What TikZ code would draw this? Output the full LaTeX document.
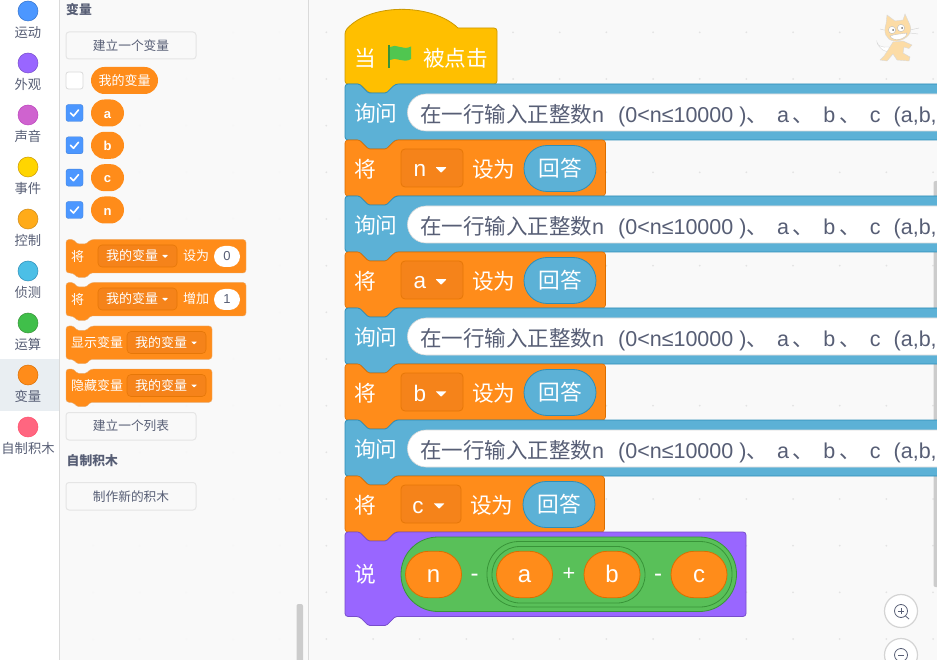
\documentclass[tikz,border=0pt]{standalone}
\usepackage{fontspec}
\setmainfont{Liberation Sans}
\newfontfamily\cjk{Noto Sans CJK SC}
\usetikzlibrary{positioning, shapes.misc}

\definecolor{inkgrey}{HTML}{575E75}
\definecolor{panelbg}{HTML}{F9F9F9}
\definecolor{linegrey}{HTML}{DADADA}
\definecolor{askfill}{HTML}{5CB1D6}
\definecolor{askline}{HTML}{2E8EB8}
\definecolor{varfill}{HTML}{FF8C1A}
\definecolor{varline}{HTML}{DB6E00}
\definecolor{menufill}{HTML}{F5831A}
\definecolor{hatfill}{HTML}{FFBF00}
\definecolor{hatline}{HTML}{CC9900}
\definecolor{sayfill}{HTML}{9966FF}
\definecolor{sayline}{HTML}{774DCB}
\definecolor{opfill}{HTML}{59C059}
\definecolor{opline}{HTML}{389438}
\definecolor{catfill}{HTML}{FCDCA6}
\definecolor{tickblue}{HTML}{4C97FF}
\definecolor{selectbg}{HTML}{E9EEF2}

\newcommand{\zh}[1]{{\cjk #1}}
% stack block: style, left, top, right, bottom, notch unit
\newcommand{\stackblock}[6]{
	\draw [#1, rounded corners=3pt] (#2,#3) -- (#2,#5)
		-- (#2+1.6*#6,#5) [rounded corners=1.5pt] -- (#2+2.6*#6,#5+#6) -- (#2+4.6*#6,#5+#6) -- (#2+5.6*#6,#5) [rounded corners=3pt]
		-- (#4,#5) -- (#4,#3)
		-- (#2+5.6*#6,#3) [rounded corners=1.5pt] -- (#2+4.6*#6,#3+#6) -- (#2+2.6*#6,#3+#6) -- (#2+1.6*#6,#3) [rounded corners=3pt]
		-- cycle;
}
\newcommand{\dropmark}[3]{
	\fill [white, rounded corners=0.6pt] (#1-#3,#2-0.5*#3) -- (#1+#3,#2-0.5*#3) -- (#1,#2+0.5*#3) -- cycle;
}

\begin{document}
\begin{tikzpicture}[x=1pt, y=-1pt,
	bigtext/.style={inner sep=0pt, text=white, font=\fontsize{21.7}{24}\selectfont},
	smalltext/.style={inner sep=0pt, text=white, font=\fontsize{13}{15}\selectfont},
	greytext/.style={inner sep=0pt, text=inkgrey, font=\fontsize{13.3}{15}\selectfont},
	buttontext/.style={inner sep=0pt, text=inkgrey, font=\fontsize{12.7}{15}\selectfont},
	headtext/.style={greytext, font=\fontsize{12.8}{15}\selectfont\bfseries},
	askblock/.style={fill=askfill, draw=askline, line width=0.8pt},
	varblock/.style={fill=varfill, draw=varline, line width=0.6pt},
	flyblock/.style={fill=varfill, draw=varfill!85!black!60!white, line width=0.4pt},
	sayblock/.style={fill=sayfill, draw=sayline, line width=0.8pt},
	hatblock/.style={fill=hatfill, draw=hatline, line width=0.8pt},
	category/.style={circle, minimum size=20pt, inner sep=0pt, line width=0.5pt},
	flybutton/.style={rounded corners=3pt, draw=black!10, fill=panelbg, line width=1pt},
	menubox/.style={rounded corners=4pt, draw=varline!70!varfill, fill=menufill, line width=0.8pt},
	varpill/.style={rounded rectangle, fill=varfill, inner sep=0pt, text=white, font=\fontsize{13}{15}\selectfont},
	letterpill/.style={varpill, minimum width=33pt, minimum height=27pt, text height=10.6pt, text depth=0pt,
		font=\fontsize{13}{15}\selectfont\bfseries},
	bigpill/.style={rounded rectangle, fill=varfill, draw=varline, line width=0.8pt, inner sep=0pt,
		minimum width=56pt, minimum height=46.5pt, text height=16pt, text depth=0pt, text=white,
		font=\fontsize{24}{26}\selectfont},
	answer/.style={rounded rectangle, fill=askfill, draw=askline, line width=0.8pt, inner sep=0pt,
		minimum width=72pt, minimum height=46pt, text=white, font=\fontsize{21.7}{24}\selectfont},
	ring/.style={draw=opline, line width=0.8pt},
	tickbox/.style={rounded corners=2.5pt, fill=tickblue, draw=tickblue!85!black, line width=0.4pt},
]
	\useasboundingbox (0,0) rectangle (937,660);
	\clip (0,0) rectangle (937,660);

	% panels
	\fill [panelbg] (0,0) rectangle (937,660);
	\fill [white] (0,0) rectangle (58.5,660);
	\fill [selectbg] (0,359) rectangle (58.5,411);
	\draw [linegrey] (58.8,0) -- (58.8,660);
	\draw [linegrey, line width=1pt] (308.8,0) -- (308.8,660);
	\foreach \i in {0,...,18} {
		\foreach \j in {0,...,13} {
			\pgfmathsetmacro{\dotx}{93+46.67*\i}
			\pgfmathsetmacro{\doty}{32.3+46.67*\j}
			\ifdim \dotx pt<305pt
				\fill [black!3] (\dotx,\doty) circle (1pt);
			\else
				\fill [black!11] (\dotx,\doty) circle (1pt);
			\fi
		}
	}

	% category column
	\foreach \n/\name/\cfill/\cedge in {0/运动/4C97FF/3373CC, 1/外观/9966FF/774DCB, 2/声音/CF63CF/BD42BD,
		3/事件/FFD500/CC9900, 4/控制/FFAB19/CF8B17, 5/侦测/4CBFE6/2E8EB8, 6/运算/40BF4A/389438,
		7/变量/FF8C1A/DB6E00, 8/自制积木/FF6680/FF4D6A} {
		\definecolor{cfillc}{HTML}{\cfill}
		\definecolor{cedgec}{HTML}{\cedge}
		\node (cat\n) [category, fill=cfillc, draw=cedgec] at (28,11+52*\n) {};
		\node (catname\n) [greytext, below=5pt of cat\n] {\zh{\name}};
	}

	% flyout
	\node (varhead) [headtext, anchor=west] at (66,10) {\zh{变量}};
	\draw [flybutton] (66,32) rectangle (196,59);
	\node (newvar) [buttontext] at (131,45.5) {\zh{建立一个变量}};
	\draw [rounded corners=2.5pt, fill=white, draw=linegrey, line width=0.8pt] (66,72) rectangle (83,89);
	\node (myvar) [varpill, minimum width=67pt, minimum height=27pt] at (124.5,80.5) {\zh{我的变量}};
	\foreach \y/\v in {113/a, 145.3/b, 177.7/c, 210/n} {
		\draw [tickbox] (66,\y-8.5) rectangle (83,\y+8.5);
		\draw [white, line width=1.6pt, line cap=round, line join=round] (70.5,\y) -- (73.5,\y+3) -- (78.5,\y-3);
		\node (pill\v) [letterpill] at (107.5,\y) {\v};
	}
	\foreach \tp/\word/\num in {239.5/设为/0, 282.5/增加/1} {
		\stackblock{flyblock}{66}{\tp}{246}{\tp+33.5}{4.4}
		\node (fly\num) [smalltext, anchor=west] at (71,\tp+17) {\zh{将}};
		\draw [menubox, line width=0.6pt] (98,\tp+5.5) rectangle (177,\tp+27.5);
		\node (menu\num) [smalltext, anchor=west] at (106,\tp+16.5) {\zh{我的变量}};
		\dropmark{165}{\tp+17}{3}
		\node (word\num) [smalltext, anchor=west] at (183,\tp+16.5) {\zh{\word}};
		\node (val\num) [rounded rectangle, fill=white, inner sep=0pt, minimum width=26pt, minimum height=21pt,
			text=inkgrey, font=\fontsize{13}{15}\selectfont] at (227,\tp+17) {\num};
	}
	\foreach \tp/\word in {326/显示变量, 369/隐藏变量} {
		\stackblock{flyblock}{66}{\tp}{212}{\tp+33.3}{4.4}
		\node (show\tp) [smalltext, anchor=west] at (71,\tp+16.5) {\zh{\word}};
		\draw [menubox, line width=0.6pt] (127,\tp+5.5) rectangle (206,\tp+27.5);
		\node (showmenu\tp) [smalltext, anchor=west] at (135,\tp+16.5) {\zh{我的变量}};
		\dropmark{194}{\tp+17}{3}
	}
	\draw [flybutton] (66,412.5) rectangle (196,440);
	\node (newlist) [buttontext] at (131,426) {\zh{建立一个列表}};
	\node (ownhead) [headtext, anchor=west] at (66.5,461) {\zh{自制积木}};
	\draw [flybutton] (66,482.5) rectangle (196,510);
	\node (newblock) [buttontext] at (131,496.5) {\zh{制作新的积木}};

	% scrollbars
	\fill [black!20, rounded corners=2pt] (296.5,604) rectangle (303,670);
	\fill [black!20, rounded corners=2pt] (933.5,181) rectangle (945,587);

	% cat
	\draw [fill=white, draw=black!15] (889,47) .. controls (882,48) and (876,45) .. (877,42)
		.. controls (879,49) and (885,53) .. (893,52) -- cycle;
	\draw [fill=catfill, draw=black!15, line join=round] (893,42) -- (903,41) -- (912,45) -- (909,48.5) -- (904,47)
		-- (903,53) -- (910,57) -- (909,61) -- (897,60) -- (893,54) -- (887,61) -- (880,60) -- (884,56) -- (888,50) -- cycle;
	\draw [fill=catfill, draw=black!15] (886,24) -- (887,15) -- (895,21) -- (903,20) -- (905,14) -- (910,25)
		.. controls (914,35) and (902,42) .. (894,41) .. controls (886,40) and (883,32) .. (886,24) -- cycle;
	\draw [fill=white, draw=black!30, line width=0.3pt] (892,30) circle (3.6pt) (901,28) circle (3.6pt);
	\fill [black!55] (893,30) circle (1pt) (902,28) circle (1pt);
	\draw [fill=white, draw=black!25, line width=0.3pt] (890,36) .. controls (895,34) and (902,34) .. (907,33)
		.. controls (906,40) and (893,42) .. (890,36) -- cycle;
	\draw [black!18, line width=0.4pt] (884,30) -- (880,29) (910,30) -- (919,28) (910,33) -- (918,34);

	% hat block
	\draw [hatblock] (345,31) .. controls (370,3) and (432,3) .. (458,28) [rounded corners=3pt] -- (497,28)
		-- (497,84) -- (398,84) -- (389,93) -- (369,93) -- (360,84) -- (345,84) -- cycle;
	\node (when) [bigtext, anchor=west] at (354,58) {\zh{当}};
	\node (clicked) [bigtext, anchor=west] at (423,58) {\zh{被点击}};
	\fill [opline] (388.2,45) rectangle (390.2,68.5);
	\fill [opfill!90!green] (390.2,47) .. controls (396,43) and (403,51) .. (411,46.5) -- (411,59)
		.. controls (403,64) and (396,56) .. (390.2,60) -- cycle;

	% ask and set rows
	\foreach \tp/\v/\menuend/\ansx/\blockend in {84/n/463/560/605.5, 196/a/463/560/605.5, 308/b/463/560/605.5, 420/c/461/559/604.5} {
		\stackblock{askblock}{345}{\tp}{990}{\tp+56}{9}
		\node (ask\v) [bigtext, anchor=west] at (354,\tp+29) {\zh{询问}};
		\draw [fill=white, draw=black!15, line width=0.6pt, rounded corners=18.5pt] (407.5,\tp+10) rectangle (990,\tp+47);
		\node (prompt\v) [inner sep=0pt, text=inkgrey, anchor=base west, font=\fontsize{21.5}{24}\selectfont] at (420,\tp+38.5)
			{\zh{在一行输入正整数}n\hspace{14pt}(0<n≤10000 )\zh{、}\hspace{9pt}a\hspace{4pt}\zh{、}\hspace{9pt}b\hspace{4pt}\zh{、}\hspace{9pt}c\hspace{13pt}(a,b,c};
		\stackblock{varblock}{345}{\tp+56}{\blockend}{\tp+112}{9}
		\node (set\v) [bigtext, anchor=west] at (354,\tp+85) {\zh{将}};
		\draw [menubox] (401,\tp+65) rectangle (\menuend,\tp+103);
		\node (menu\v) [bigtext, text height=14pt, text depth=0pt, font=\fontsize{22.5}{24}\selectfont] at (\menuend-43,\tp+86) {\v};
		\dropmark{\menuend-22}{\tp+86}{5.5}
		\node (to\v) [bigtext, anchor=west] at (\menuend+9,\tp+85) {\zh{设为}};
		\node (ans\v) [answer] at (\ansx,\tp+84.5) {\zh{回答}};
	}

	% say block
	\stackblock{sayblock}{345}{532}{746}{616.5}{9}
	\node (say) [bigtext, anchor=west] at (354,574) {\zh{说}};
	\draw [fill=opfill, draw=opline, line width=0.8pt, rounded corners=37pt] (401,537) rectangle (736.5,611.5);
	\draw [ring, rounded corners=32pt] (487,541.5) rectangle (732,607);
	\draw [ring, rounded corners=28pt] (492,546.5) rectangle (645,603);
	\node (termn) [bigpill] at (433.5,574.5) {n};
	\node (minusa) [bigtext, font=\fontsize{24}{26}\selectfont] at (474.5,577.5) {-};
	\node (terma) [bigpill] at (524.5,574.5) {a};
	\node (plus) [bigtext] at (569,574) {+};
	\node (termb) [bigpill] at (612,574.5) {b};
	\node (minusb) [bigtext, font=\fontsize{24}{26}\selectfont] at (658,577.5) {-};
	\node (termc) [bigpill] at (699,574.5) {c};

	% zoom controls
	\foreach \y/\s in {611/plus, 655/minus} {
		\draw [fill=white, draw=black!17, line width=1.2pt] (901,\y) circle (16.5pt);
		\draw [inkgrey, line width=0.8pt] (901,\y) circle (6.5pt) (905.5,\y+5) -- (909,\y+8);
		\draw [inkgrey, line width=0.8pt] (898,\y) -- (904,\y);
	}
	\draw [inkgrey, line width=0.8pt] (901,608) -- (901,614);
\end{tikzpicture}
\end{document}
